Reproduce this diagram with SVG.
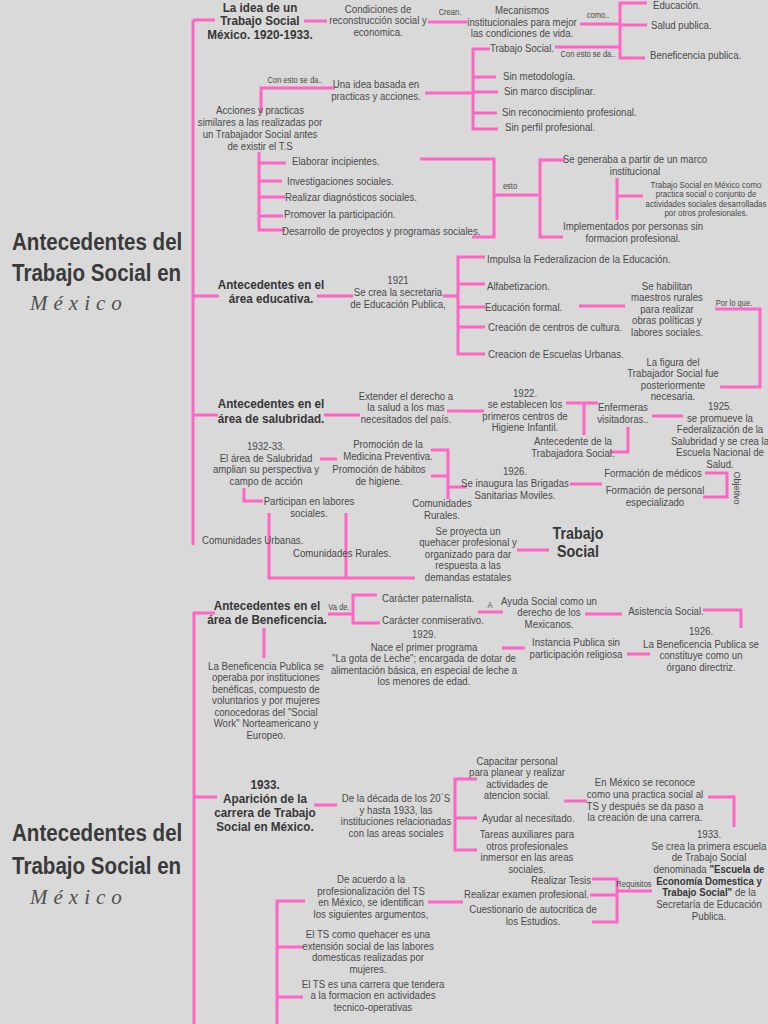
<svg xmlns="http://www.w3.org/2000/svg" width="768" height="1024" viewBox="0 0 768 1024">
<style>
.t{font-family:"Liberation Sans",Arial,Helvetica,sans-serif;font-size:11.5px;fill:#4a4a4a;transform-box:fill-box;transform:scaleX(.84)}
.c{text-anchor:middle;transform-origin:50% 50%}
.l{text-anchor:start;transform-origin:0 50%}
.r{text-anchor:end;transform-origin:100% 50%}
.b2{font-weight:700;font-size:13px;fill:#363636;transform:scaleX(.9)}
.bb{font-weight:700;fill:#363636}
.s{font-size:9px}
.xs{font-size:9.5px}
.big{font-weight:700;font-size:17px;fill:#363636}
.h{font-size:24.5px;font-weight:700;fill:#3a3a3a}
.m{font-family:"Liberation Serif","DejaVu Serif",serif;font-style:italic;font-size:21px;fill:#505050;letter-spacing:6px}
.o{font-family:"Liberation Sans",Arial,sans-serif;font-size:9px;fill:#4a4a4a;text-anchor:middle}
.k{fill:none;stroke:#ff66c4;stroke-width:3;stroke-linecap:butt;stroke-linejoin:miter}
</style>
<rect width="768" height="1024" fill="#d9d9d9"/>

<g id="connectors">
<path class="k" d="M193,20 V545 M193,20 H215 M193,296 H219 M193,415 H218"/>
<path class="k" d="M304,21 H327 M428,22 H467 M580,24 H620"/>
<path class="k" d="M647,3 H620 V58 H645 M620,25 H647 M555,47 H620"/>
<path class="k" d="M490,49 H473 V129 H498 M473,77 H496 M473,92 H498 M473,113 H497 M425,93 H473"/>
<path class="k" d="M335,88 H261 V113"/>
<path class="k" d="M259,152 V230 H285 M259,163 H286 M259,181 H282 M259,197 H285 M259,216 H283"/>
<path class="k" d="M420,159 H494 V237 H472 M494,195 H538"/>
<path class="k" d="M565,160 H540 V237 H563 M617,178 V220 M617,196 H643"/>
<path class="k" d="M317,296 H353 M443,296 H458"/>
<path class="k" d="M485,257 H458 V354 H485 M458,284 H485 M458,307 H485 M458,327 H485"/>
<path class="k" d="M579,306 H625 M715,309 H760 V387 H720"/>
<path class="k" d="M324,415 H360 M447,411 H484 M566,403 H598 M584,403 V435 M610,452 H628 V427 M652,416 H683"/>
<path class="k" d="M320,459 H337 M431,450 H448 V499 M431,476 H448 M448,487 H467 M570,484 H602 M705,473 H727 V497 H703"/>
<path class="k" d="M244,488 V501 H263 M269,513 V578 H415 M346,513 V578 M517,550 H549"/>
<path class="k" d="M215,613 H194 V1024 M264,628 V658"/>
<path class="k" d="M328,614 H353 M377,595 H353 V623 H380 M478,612 H503 M585,614 H622 M703,610 H741 V628"/>
<path class="k" d="M502,648 H525 M627,654 H650"/>
<path class="k" d="M194,797 H217 M314,805 H337 M477,779 H455 V850 H477 M455,818 H477 M564,801 H587 M708,797 H734 V827"/>
<path class="k" d="M592,879 H617 V922 H592 M590,895 H617 M617,891 H652 M428,902 H463"/>
<path class="k" d="M305,901 H277 V1024 M277,947 H303 M277,997 H303"/>
</g>

<g id="title-1">
<text class="t l h" x="12" y="250">Antecedentes del</text>
<text class="t l h" x="12" y="281">Trabajo Social en</text>
<text class="m" x="30" y="310">México</text>
</g>
<g id="title-2">
<text class="t l h" x="12" y="841">Antecedentes del</text>
<text class="t l h" x="12" y="874">Trabajo Social en</text>
<text class="m" x="30" y="904">México</text>
</g>

<g id="n-idea"><text class="t c b2"><tspan x="260" y="12">La idea de un</tspan><tspan x="260" y="25.5">Trabajo Social</tspan><tspan x="260" y="39">México. 1920-1933.</tspan></text></g>
<g id="n-condiciones"><text class="t c"><tspan x="378" y="13">Condiciones de</tspan><tspan x="378" y="24.5">reconstrucción social y</tspan><tspan x="378" y="36">economica.</tspan></text></g>
<g id="l-crean"><text class="t c s" x="450" y="15">Crean.</text></g>
<g id="n-mecanismos"><text class="t c"><tspan x="522" y="14.5">Mecanismos</tspan><tspan x="522" y="26">institucionales para mejor</tspan><tspan x="522" y="37.5">las condiciones de vida.</tspan></text></g>
<g id="l-como"><text class="t c s" x="598" y="18">como..</text></g>
<g id="n-educacion"><text class="t l" x="653" y="9">Educación.</text></g>
<g id="n-salud"><text class="t l" x="651" y="29">Salud publica.</text></g>
<g id="n-beneficencia"><text class="t l" x="650" y="59">Beneficencia publica.</text></g>
<g id="l-conesto1"><text class="t c s" x="588" y="57">Con esto se da..</text></g>
<g id="n-ts"><text class="t l" x="490" y="52">Trabajo Social.</text></g>
<g id="n-sinmet"><text class="t l" x="503" y="80">Sin metodología.</text></g>
<g id="n-sinmarco"><text class="t l" x="504" y="95">Sin marco disciplinar.</text></g>
<g id="n-sinrec"><text class="t l" x="502" y="116">Sin reconocimiento profesional.</text></g>
<g id="n-sinperfil"><text class="t l" x="505" y="131">Sin perfil profesional.</text></g>
<g id="l-conesto2"><text class="t c s" x="295" y="83">Con esto se da..</text></g>
<g id="n-unaidea"><text class="t c"><tspan x="376" y="88.5">Una idea basada en</tspan><tspan x="376" y="100">practicas y acciones.</tspan></text></g>
<g id="n-acciones"><text class="t c"><tspan x="260" y="114">Acciones y practicas</tspan><tspan x="260" y="126">similares a las realizadas por</tspan><tspan x="260" y="138">un Trabajador Social antes</tspan><tspan x="260" y="150">de existir el T.S</tspan></text></g>
<g id="n-elaborar"><text class="t l" x="292" y="165">Elaborar incipientes.</text></g>
<g id="n-investig"><text class="t l" x="287" y="185">Investigaciones sociales.</text></g>
<g id="n-diagn"><text class="t l" x="285" y="201">Realizar diagnósticos sociales.</text></g>
<g id="n-promover"><text class="t l" x="284" y="218">Promover la participación.</text></g>
<g id="n-desarrollo"><text class="t l" x="282" y="235">Desarrollo de proyectos y programas sociales.</text></g>
<g id="l-esto"><text class="t c s" x="510" y="189">esto</text></g>
<g id="n-segeneraba"><text class="t c"><tspan x="635" y="163">Se generaba a partir de un marco</tspan><tspan x="635" y="175">institucional</tspan></text></g>
<g id="n-tsmexico"><text class="t c xs"><tspan x="706" y="188">Trabajo Social en México como</tspan><tspan x="706" y="197.5">practica social o conjunto de</tspan><tspan x="706" y="207">actividades sociales desarrolladas</tspan><tspan x="706" y="216.5">por otros profesionales.</tspan></text></g>
<g id="n-implementados"><text class="t c"><tspan x="633" y="230">Implementados por personas sin</tspan><tspan x="633" y="242">formacion profesional.</tspan></text></g>

<g id="n-educativa"><text class="t c b2"><tspan x="271" y="289">Antecedentes en el</tspan><tspan x="271" y="303">área educativa.</tspan></text></g>
<g id="n-1921"><text class="t c"><tspan x="398" y="284">1921</tspan><tspan x="398" y="296">Se crea la secretaria</tspan><tspan x="398" y="308">de Educación Publica,</tspan></text></g>
<g id="n-impulsa"><text class="t l" x="487" y="263">Impulsa la Federalizacion de la Educación.</text></g>
<g id="n-alfabet"><text class="t l" x="487" y="290">Alfabetizacion.</text></g>
<g id="n-edformal"><text class="t l" x="485" y="311">Educación formal.</text></g>
<g id="n-centros"><text class="t l" x="488" y="331">Creación de centros de cultura.</text></g>
<g id="n-escuelas"><text class="t l" x="488" y="358">Creacion de Escuelas Urbanas.</text></g>
<g id="n-habilitan"><text class="t c"><tspan x="667" y="290">Se habilitan</tspan><tspan x="667" y="301.5">maestros rurales</tspan><tspan x="667" y="313">para realizar</tspan><tspan x="667" y="324.5">obras políticas y</tspan><tspan x="667" y="336">labores sociales.</tspan></text></g>
<g id="l-porloque"><text class="t c s" x="734" y="306">Por lo que.</text></g>
<g id="n-figura"><text class="t c"><tspan x="673" y="366">La figura del</tspan><tspan x="673" y="377.5">Trabajador Social fue</tspan><tspan x="673" y="389">posteriormente</tspan><tspan x="673" y="400.5">necesaria.</tspan></text></g>

<g id="n-salubridad"><text class="t c b2"><tspan x="271" y="408.5">Antecedentes en el</tspan><tspan x="271" y="423">área de salubridad.</tspan></text></g>
<g id="n-extender"><text class="t c"><tspan x="406" y="400">Extender el derecho a</tspan><tspan x="406" y="411.5">la salud a los mas</tspan><tspan x="406" y="423">necesitados del país.</tspan></text></g>
<g id="n-1922"><text class="t c"><tspan x="525" y="397">1922.</tspan><tspan x="525" y="408.5">se establecen los</tspan><tspan x="525" y="420">primeros centros de</tspan><tspan x="525" y="431.5">Higiene Infantil.</tspan></text></g>
<g id="n-enfermeras"><text class="t c"><tspan x="623" y="411.5">Enfermeras</tspan><tspan x="623" y="423">visitadoras..</tspan></text></g>
<g id="n-antecedente"><text class="t c"><tspan x="573" y="445.5">Antecedente de la</tspan><tspan x="573" y="457">Trabajadora Social.</tspan></text></g>
<g id="n-1925"><text class="t c"><tspan x="720" y="410">1925.</tspan><tspan x="720" y="422">se promueve la</tspan><tspan x="720" y="433.5">Federalización de la</tspan><tspan x="720" y="445">Salubridad y se crea la</tspan><tspan x="720" y="456.5">Escuela Nacional de</tspan><tspan x="720" y="468">Salud.</tspan></text></g>
<g id="n-1932"><text class="t c"><tspan x="266" y="450.5">1932-33.</tspan><tspan x="266" y="462">El área de Salubridad</tspan><tspan x="266" y="473.5">amplian su perspectiva y</tspan><tspan x="266" y="485">campo de acción</tspan></text></g>
<g id="n-medicina"><text class="t c"><tspan x="388" y="448">Promoción de la</tspan><tspan x="388" y="460">Medicina Preventiva.</tspan></text></g>
<g id="n-habitos"><text class="t c"><tspan x="379" y="473">Promoción de hábitos</tspan><tspan x="379" y="485">de higiene.</tspan></text></g>
<g id="n-comrurales1"><text class="t c"><tspan x="442" y="507">Comunidades</tspan><tspan x="442" y="519">Rurales.</tspan></text></g>
<g id="n-1926b"><text class="t c"><tspan x="515" y="475">1926.</tspan><tspan x="515" y="487.5">Se inaugura las Brigadas</tspan><tspan x="515" y="499">Sanitarias Moviles.</tspan></text></g>
<g id="n-medicos"><text class="t c" x="653" y="477">Formación de médicos</text></g>
<g id="n-personal"><text class="t c"><tspan x="655" y="494.5">Formación de personal</tspan><tspan x="655" y="506">especializado</tspan></text></g>
<g id="l-objetivo"><text class="o" transform="translate(734,488) rotate(90)">Objetivo</text></g>
<g id="n-participan"><text class="t c"><tspan x="309" y="505">Participan en labores</tspan><tspan x="309" y="517">sociales.</tspan></text></g>
<g id="n-comurbanas"><text class="t l" x="202" y="544">Comunidades Urbanas.</text></g>
<g id="n-comrurales2"><text class="t c" x="342" y="557">Comunidades Rurales.</text></g>
<g id="n-proyecta"><text class="t c"><tspan x="468" y="535">Se proyecta un</tspan><tspan x="468" y="546.5">quehacer profesional y</tspan><tspan x="468" y="558">organizado para dar</tspan><tspan x="468" y="569.5">respuesta a las</tspan><tspan x="468" y="581">demandas estatales</tspan></text></g>
<g id="n-trabajosocial"><text class="t c big"><tspan x="578" y="539">Trabajo</tspan><tspan x="578" y="557">Social</tspan></text></g>

<g id="n-benef"><text class="t c b2"><tspan x="267" y="610">Antecedentes en el</tspan><tspan x="267" y="624">área de Beneficencia.</tspan></text></g>
<g id="n-benefpub"><text class="t c"><tspan x="266" y="670">La Beneficencia Publica se</tspan><tspan x="266" y="681.5">operaba por instituciones</tspan><tspan x="266" y="693">benéficas, compuesto de</tspan><tspan x="266" y="704.5">voluntarios y por mujeres</tspan><tspan x="266" y="716">conocedoras del "Social</tspan><tspan x="266" y="727.5">Work" Norteamericano y</tspan><tspan x="266" y="739">Europeo.</tspan></text></g>
<g id="l-vade"><text class="t c s" x="339" y="610">Va de.</text></g>
<g id="n-paternalista"><text class="t l" x="382" y="602">Carácter paternalista.</text></g>
<g id="n-conmiserativo"><text class="t l" x="382" y="624">Carácter conmiserativo.</text></g>
<g id="l-a"><text class="t c s" x="490" y="608">A</text></g>
<g id="n-ayuda"><text class="t c"><tspan x="549" y="605">Ayuda Social como un</tspan><tspan x="549" y="616.5">derecho de los</tspan><tspan x="549" y="628">Mexicanos.</tspan></text></g>
<g id="n-asistencia"><text class="t c" x="666" y="615">Asistencia Social.</text></g>
<g id="n-1926a"><text class="t c"><tspan x="701" y="635">1926.</tspan><tspan x="701" y="648">La Beneficencia Publica se</tspan><tspan x="701" y="659.5">constituye como un</tspan><tspan x="701" y="671">órgano directriz.</tspan></text></g>
<g id="n-1929"><text class="t c"><tspan x="424" y="638">1929.</tspan><tspan x="424" y="651">Nace el primer programa</tspan><tspan x="424" y="662.5">"La gota de Leche"; encargada de dotar de</tspan><tspan x="424" y="674">alimentación básica, en especial de leche a</tspan><tspan x="424" y="685.5">los menores de edad.</tspan></text></g>
<g id="n-instancia"><text class="t c"><tspan x="576" y="646.5">Instancia Publica sin</tspan><tspan x="576" y="658">participación religiosa</tspan></text></g>

<g id="n-1933"><text class="t c b2"><tspan x="265" y="789">1933.</tspan><tspan x="265" y="803">Aparición de la</tspan><tspan x="265" y="817">carrera de Trabajo</tspan><tspan x="265" y="831">Social en México.</tspan></text></g>
<g id="n-decada"><text class="t c"><tspan x="396" y="802.5">De la década de los 20´S</tspan><tspan x="396" y="814">y hasta 1933, las</tspan><tspan x="396" y="825.5">instituciones relacionadas</tspan><tspan x="396" y="837">con las areas sociales</tspan></text></g>
<g id="n-capacitar"><text class="t c"><tspan x="517" y="765">Capacitar personal</tspan><tspan x="517" y="776.5">para planear y realizar</tspan><tspan x="517" y="788">actividades de</tspan><tspan x="517" y="799.5">atencion social.</tspan></text></g>
<g id="n-ayudar"><text class="t l" x="482" y="822">Ayudar al necesitado.</text></g>
<g id="n-tareas"><text class="t c"><tspan x="527" y="838.5">Tareas auxiliares para</tspan><tspan x="527" y="850">otros profesionales</tspan><tspan x="527" y="861.5">inmersor en las areas</tspan><tspan x="527" y="873">sociales.</tspan></text></g>
<g id="n-reconoce"><text class="t c"><tspan x="645" y="786.5">En México se reconoce</tspan><tspan x="645" y="798.5">como una practica social al</tspan><tspan x="645" y="810">TS y después se da paso a</tspan><tspan x="645" y="821.5">la creación de una carrera.</tspan></text></g>
<g id="n-escuela"><text class="t c"><tspan x="709" y="838">1933.</tspan><tspan x="709" y="850">Se crea la primera escuela</tspan><tspan x="709" y="861.5">de Trabajo Social</tspan><tspan x="709" y="873.5">denominada <tspan class="bb">"Escuela de</tspan></tspan><tspan x="709" y="885" class="bb">Economía Domestica y</tspan><tspan x="709" y="896.5"><tspan class="bb">Trabajo Social"</tspan> de la</tspan><tspan x="709" y="908.5">Secretaría de Educación</tspan><tspan x="709" y="920">Publica.</tspan></text></g>
<g id="n-tesis"><text class="t r" x="591" y="884.5">Realizar Tesis</text></g>
<g id="n-examen"><text class="t r" x="589" y="898">Realizar examen profesional.</text></g>
<g id="n-cuestionario"><text class="t c"><tspan x="533" y="913.5">Cuestionario de autocritica de</tspan><tspan x="533" y="925">los Estudios.</tspan></text></g>
<g id="l-requisitos"><text class="t c s" x="634" y="887">Requisitos</text></g>
<g id="n-deacuerdo"><text class="t c"><tspan x="371" y="883">De acuerdo a la</tspan><tspan x="371" y="895">profesionalización del TS</tspan><tspan x="371" y="906.5">en México, se identifican</tspan><tspan x="371" y="918">los siguientes argumentos,</tspan></text></g>
<g id="n-quehacer"><text class="t c"><tspan x="368" y="938">El TS como quehacer es una</tspan><tspan x="368" y="950">extensión social de las labores</tspan><tspan x="368" y="961.5">domesticas realizadas por</tspan><tspan x="368" y="973">mujeres.</tspan></text></g>
<g id="n-carrera"><text class="t c"><tspan x="373" y="988">El TS es una carrera que tendera</tspan><tspan x="373" y="999.5">a la formacion en actividades</tspan><tspan x="373" y="1011">tecnico-operativas</tspan></text></g>
</svg>
